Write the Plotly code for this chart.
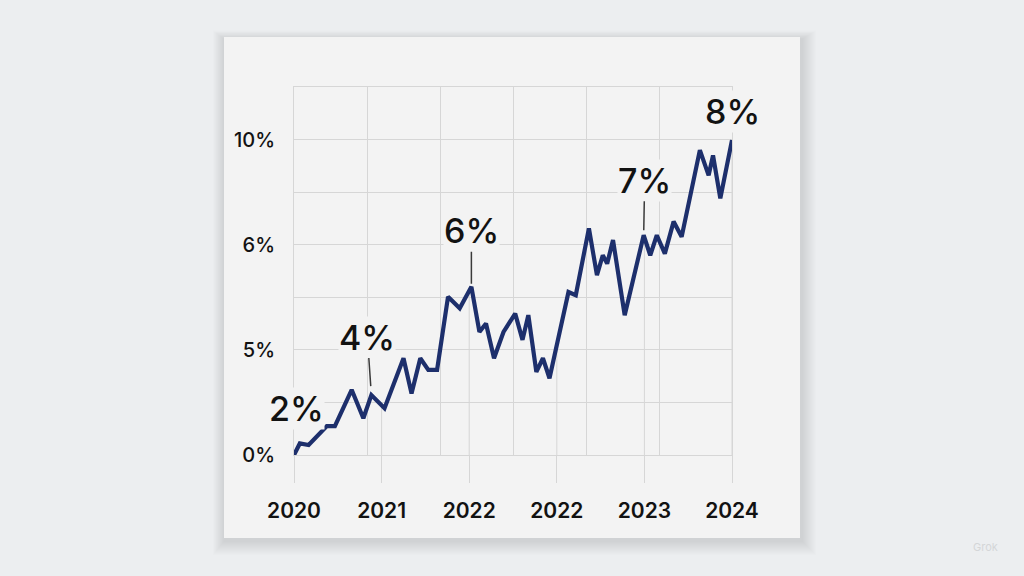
import numpy as np
import plotly.graph_objects as go

# ---------------- data ----------------
t = [0.0, 0.08, 0.20, 0.45, 0.56, 0.79, 0.95, 1.06, 1.24, 1.50, 1.61, 1.73, 1.84, 1.96,
     2.11, 2.27, 2.43, 2.54, 2.63, 2.74, 2.87, 3.03, 3.13, 3.21, 3.32, 3.41, 3.50, 3.76,
     3.86, 4.04, 4.15, 4.23, 4.29, 4.37, 4.53, 4.79, 4.88, 4.97, 5.08, 5.20, 5.31, 5.56,
     5.68, 5.74, 5.84, 6.0]
value = [0.00, 0.22, 0.19, 0.55, 0.55, 1.24, 0.70, 1.14, 0.89, 1.84, 1.17, 1.84, 1.62, 1.62,
         3.01, 2.79, 3.20, 2.34, 2.50, 1.84, 2.34, 2.69, 2.19, 2.66, 1.58, 1.84, 1.46, 3.10,
         3.04, 4.31, 3.42, 3.80, 3.64, 4.09, 2.66, 4.18, 3.80, 4.18, 3.83, 4.44, 4.15, 5.80,
         5.32, 5.70, 4.88, 5.99]

x_tick_vals = [0.0, 1.2, 2.4, 3.6, 4.8, 6.0]
x_tick_text = ["2020", "2021", "2022", "2022", "2023", "2024"]

y_grid_vals = [0, 1, 2, 3, 4, 5, 6, 7]
y_tick_text = ["0%", "", "5%", "", "6%", "", "10%", ""]

label_text = ["2%", "4%", "6%", "7%", "8%"]
label_index = [0, 7, 16, 35, 45]

# ---------------- layout constants ----------------
W, H = 1024, 576
L, R, T, B = 294, 292, 87, 121
PW, PH = W - L - R, H - T - B

def px(xp):
    return (xp - L) / PW

def py(yp):
    return (H - B - yp) / PH

BG = "#eceef0"
CARD = "#f3f3f3"
GRID = "#d6d6d6"
LINE = "#1d2f6c"
TXT = "#121212"
FONT = "Inter, Roboto, Arial, sans-serif"

fig = go.Figure()

# drop lines from the series down to the axis at each labelled tick
drop_x, drop_y = [], []
for tv in x_tick_vals:
    drop_x += [tv, tv, None]
    drop_y += [float(np.interp(tv, t, value)), 0, None]
fig.add_trace(go.Scatter(x=drop_x, y=drop_y, mode="lines",
                         line=dict(color=GRID, width=1), hoverinfo="skip",
                         showlegend=False, cliponaxis=False))

fig.add_trace(go.Scatter(x=t, y=value, mode="lines",
                         line=dict(color=LINE, width=4.2),
                         showlegend=False, cliponaxis=False))

# card + soft shadow
shapes = []
for g in range(14, 0, -1):
    shapes.append(dict(type="rect", xref="paper", yref="paper", layer="below",
                       x0=px(224 - g * 0.8), x1=px(800 + g + 2), y0=py(538 + g + 3), y1=py(37 - g * 0.6 + 2),
                       line=dict(width=0), fillcolor="rgba(0,0,0,0.007)"))
shapes.append(dict(type="rect", xref="paper", yref="paper", layer="below",
                   x0=px(224), x1=px(800), y0=py(538), y1=py(37),
                   line=dict(width=0), fillcolor=CARD))

annotations = []
offsets = {"2%": (2, -47, False, 0), "4%": (-4, -58, True, 9), "6%": (0, -56, True, 3),
           "7%": (1, -55, True, 5), "8%": (0, -29, False, 0)}
for txt, idx in zip(label_text, label_index):
    ax, ay, arrow, so = offsets[txt]
    a = dict(x=t[idx], y=value[idx], xref="x", yref="y", text=txt,
             font=dict(family=FONT, size=34, color=TXT, weight=500),
             bgcolor=CARD, borderpad=0)
    if arrow:
        a.update(showarrow=True, ax=ax, ay=ay, arrowhead=0, arrowwidth=1.5,
                 arrowcolor="#3a3a3a", standoff=so)
    else:
        a.update(showarrow=False, xshift=ax, yshift=-ay)
    annotations.append(a)

annotations.append(dict(xref="paper", yref="paper", x=px(1000), y=py(556), text="Grok",
                        showarrow=False, font=dict(family=FONT, size=11, color="#d4d6d8")))

fig.update_layout(
    width=W, height=H,
    margin=dict(l=L, r=R, t=T, b=B),
    paper_bgcolor=BG, plot_bgcolor="rgba(0,0,0,0)",
    shapes=shapes, annotations=annotations,
    xaxis=dict(range=[0, 6], tickmode="array", tickvals=x_tick_vals, ticktext=x_tick_text,
               showgrid=False, zeroline=False,
               ticks="outside", ticklen=27, tickcolor=GRID, tickwidth=1,
               ticklabelstandoff=10,
               tickfont=dict(family=FONT, size=21, color=TXT, weight=600),
               showline=True, mirror=True, linecolor=GRID, linewidth=1,
               minor=dict(tickmode="linear", tick0=0, dtick=1, showgrid=True,
                          gridcolor=GRID, gridwidth=1, ticks="")),
    yaxis=dict(range=[0, 7], tickmode="array", tickvals=y_grid_vals, ticktext=y_tick_text,
               showgrid=True, gridcolor=GRID, gridwidth=1, zeroline=False, ticks="",
               ticklabelstandoff=14,
               tickfont=dict(family=FONT, size=20, color=TXT, weight=500),
               showline=True, mirror=True, linecolor=GRID, linewidth=1),
    hovermode=False,
)

fig.write_html("out.html")
